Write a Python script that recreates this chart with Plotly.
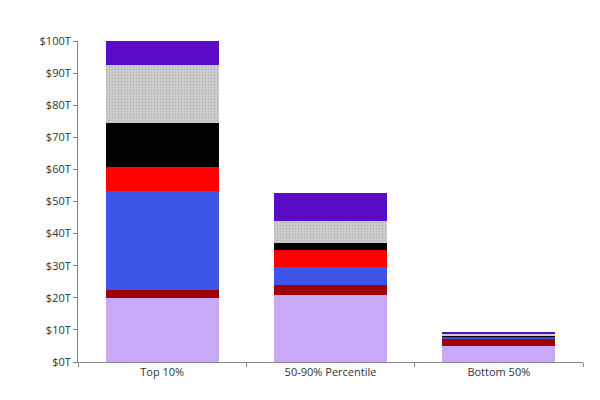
import plotly.graph_objects as go

categories = ["Top 10%", "50-90% Percentile", "Bottom 50%"]
series_names = ["Real estate", "Consumer durables", "Equities", "Private businesses", "Pension", "Other assets", "Misc"]
lavender = [20.0, 20.8, 5.0]
darkred = [2.4, 3.1, 2.3]
blue = [31.0, 5.6, 0.3]
red = [7.2, 5.3, 0.4]
black = [14.0, 2.2, 0.1]
gray = [18.0, 7.0, 0.8]
purple = [7.4, 8.5, 0.6]
tick_vals = [0, 10, 20, 30, 40, 50, 60, 70, 80, 90, 100]
tick_text = ["$%dT" % v for v in tick_vals]

series = [lavender, darkred, blue, red, black, gray, purple]
colors = ["#c9a8f8", "#a00000", "#3d56e8", "#ff0000", "#000000", "#c4c4c4", "#5a0bc8"]

fig = go.Figure()
for name, vals, c in zip(series_names, series, colors):
    marker = dict(color=c, line=dict(width=0))
    if c == "#c4c4c4":
        marker["pattern"] = dict(shape=".", fgcolor="#9a9a9a", bgcolor="#cfcfcf", size=3, solidity=0.3)
    fig.add_trace(go.Bar(x=categories, y=vals, name=name, marker=marker))

fig.update_layout(
    barmode="stack", bargap=0.33, showlegend=False,
    width=600, height=400, margin=dict(l=70, r=25, t=33, b=46),
    plot_bgcolor="white", paper_bgcolor="white",
    font=dict(family="Open Sans", size=11, color="#333"),
)
fig.update_xaxes(showline=True, linecolor="#888", ticks="outside", tickson="boundaries", ticklen=4, tickcolor="#888")
fig.update_yaxes(range=[0, 100], tickvals=tick_vals, ticktext=tick_text, showgrid=False,
                 showline=True, linecolor="#888", ticks="outside", ticklen=4, tickcolor="#888")
fig.write_html("out.html")
